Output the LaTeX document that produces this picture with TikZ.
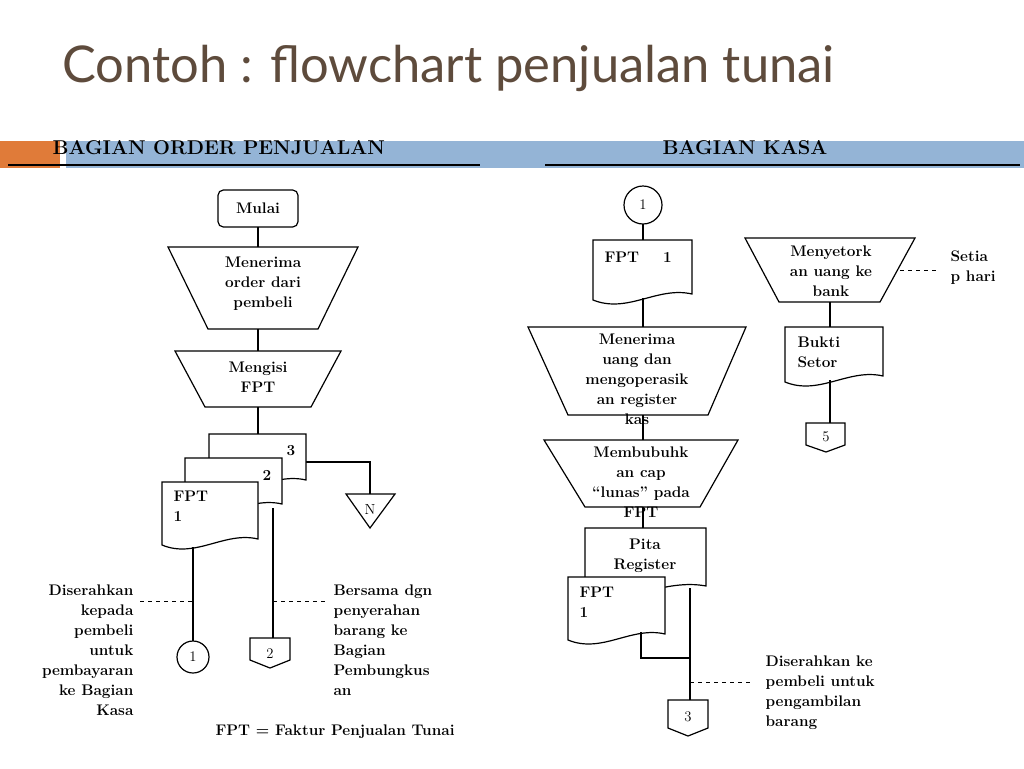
\documentclass[tikz,border=0pt]{standalone}
\usepackage{fontspec}
\newfontfamily\titlefont{Lato}
\definecolor{torange}{HTML}{E07B39}
\definecolor{tblue}{HTML}{94B4D6}
\definecolor{ttitle}{HTML}{5E4B3C}
\newcommand\docpath[5]{% name x0 y0 x1 y1(left bottom)
  \draw[fill=white] (#2,#3) -- (#4,#3) -- (#4,#5-6) .. controls ({#4-0.35*(#4-#2)},#5-14) and ({#2+0.35*(#4-#2)},#5+14) .. (#2,#5) -- cycle;
  \coordinate (#1) at ({(#2+#4)/2},{(#3+#5)/2});}
\begin{document}
\begin{tikzpicture}[x=0.75pt,y=-0.75pt,line width=0.9pt,
  lbl/.style={font=\fontsize{11.5}{15}\selectfont\bfseries,align=center,inner sep=0},
  side/.style={font=\fontsize{11.5}{15}\selectfont\bfseries,inner sep=0},
  num/.style={font=\fontsize{11}{12}\selectfont},
  dsh/.style={dashed,line width=0.6pt}]
\useasboundingbox (0,0) rectangle (1024,768);
\node[font=\titlefont\fontsize{38}{40}\selectfont,text=ttitle,anchor=west,inner sep=0] (title) at (62,68) {Contoh : flowchart penjualan tunai};
\fill[torange] (0,141) rectangle (60,168);
\fill[tblue] (66,141) rectangle (1024,168);
\draw[line width=2pt] (8,165) -- (480,165);
\draw[line width=2pt] (545,165) -- (1020,165);
\node[font=\fontsize{15}{16}\selectfont\bfseries,anchor=west,inner sep=0] (h1) at (52,148) {BAGIAN ORDER PENJUALAN};
\node[font=\fontsize{15}{16}\selectfont\bfseries,inner sep=0] (h2) at (745,148) {BAGIAN KASA};
% left
\draw[rounded corners=4pt] (218,190) rectangle (298,227);
\node[lbl] (mulai) at (258,208) {Mulai};
\draw (168,247) -- (358,247) -- (318,329) -- (208,329) -- cycle;
\node[lbl] (t1) at (263,284) {Menerima\\order dari\\pembeli};
\draw (175,351) -- (341,351) -- (311,407) -- (205,407) -- cycle;
\node[lbl] (t2) at (258,377) {Mengisi\\FPT};
\draw (258,227) -- (258,247) (258,329) -- (258,351) (258,407) -- (258,434);
\draw (306,462) -- (370,462) -- (370,494);
\draw (346,494) -- (395,494) -- (370,528) -- cycle;
\node[num] (n) at (370,509) {N};
\docpath{d3}{209}{434}{306}{486}
\node[side] at (291,451) {3};
\docpath{d2}{185}{458}{282}{510}
\node[side] at (267,475) {2};
\docpath{d1}{162}{482}{258}{545}
\node[side,align=left,anchor=north west] at (173,490) {FPT\\1};
\draw (193,547) -- (193,641);
\draw (193,657) circle (16);
\node[num] (c1) at (193,657) {1};
\draw (273,508) -- (273,638);
\draw (250,638) -- (290,638) -- (290,660) -- (270,668) -- (250,660) -- cycle;
\node[num] (o2) at (270,654) {2};
\draw[dsh] (140,601) -- (193,601) (273,601) -- (328,601);
\node[side,align=right,anchor=north east] (lt) at (134,584) {Diserahkan\\kepada\\pembeli\\untuk\\pembayaran\\ke Bagian\\Kasa};
\node[side,align=left,anchor=north west] (rt) at (333,584) {Bersama dgn\\penyerahan\\barang ke\\Bagian\\Pembungkus\\an};
\node[side,anchor=west] (fpt) at (215,732) {FPT = Faktur Penjualan Tunai};
% right
\draw (643,205) circle (19);
\node[num] (c1r) at (643,205) {1};
\draw (643,224) -- (643,240);
\docpath{df}{593}{240}{692}{300}
\node[side,anchor=west] at (604,257) {FPT\hspace{18pt}1};
\draw (643,298) -- (643,327);
\draw (528,327) -- (746,327) -- (708,415) -- (568,415) -- cycle;
\node[lbl] (t3) at (637,379) {Menerima\\uang dan\\mengoperasik\\an register\\kas};
\draw (643,415) -- (643,440);
\draw (544,440) -- (738,440) -- (700,507) -- (585,507) -- cycle;
\node[lbl] (t4) at (641,482) {Membubuhk\\an cap\\``lunas'' pada\\FPT};
\draw (643,507) -- (643,528);
\docpath{dp}{585}{528}{706}{592}
\node[lbl] at (645,556) {Pita\\Register};
\docpath{dq}{568}{577}{665}{640}
\node[side,align=left,anchor=north west] at (579,586) {FPT\\1};
\draw (690,588) -- (690,700);
\draw (641,632) -- (641,658) -- (690,658);
\draw (668,700) -- (708,700) -- (708,728) -- (688,736) -- (668,728) -- cycle;
\node[num] (o3) at (688,717) {3};
\draw[dsh] (690,682) -- (752,682);
\node[side,align=left,anchor=north west] (rt2) at (765,655) {Diserahkan ke\\pembeli untuk\\pengambilan\\barang};
\draw (745,238) -- (915,238) -- (880,302) -- (779,302) -- cycle;
\node[lbl] (t5) at (831,271) {Menyetork\\an uang ke\\bank};
\draw[dsh] (900,270) -- (940,270);
\node[side,align=left,anchor=north west] (st) at (950,250) {Setia\\p hari};
\draw (830,302) -- (830,327);
\docpath{db}{785}{327}{883}{382}
\node[side,align=left,anchor=north west] at (797,336) {Bukti\\Setor};
\draw (830,380) -- (830,423);
\draw (806,423) -- (845,423) -- (845,445) -- (826,452) -- (806,445) -- cycle;
\node[num] (o5) at (826,437) {5};
\end{tikzpicture}
\end{document}
